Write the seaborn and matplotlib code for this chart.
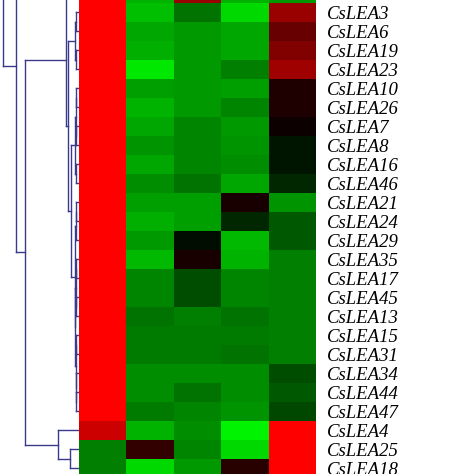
import matplotlib
matplotlib.use("Agg")
import matplotlib.pyplot as plt
import seaborn as sns
import numpy as np
import pandas as pd
from matplotlib.colors import LinearSegmentedColormap

genes = ["CsLEA2", "CsLEA3", "CsLEA6", "CsLEA19", "CsLEA23", "CsLEA10", "CsLEA26", "CsLEA7",
         "CsLEA8", "CsLEA16", "CsLEA46", "CsLEA21", "CsLEA24", "CsLEA29", "CsLEA35", "CsLEA17",
         "CsLEA45", "CsLEA13", "CsLEA15", "CsLEA31", "CsLEA34", "CsLEA44", "CsLEA47", "CsLEA4",
         "CsLEA25", "CsLEA18"]
col1 = [1, 1, 1, 1, 1, 1, 1, 1, 1, 1, 1, 1, 1, 1, 1, 1, 1, 1, 1, 1, 1, 1, 1, 0.8, -0.5, -0.5]
col2 = [-0.7, -0.75, -0.65, -0.68, -0.9, -0.62, -0.7, -0.65, -0.58, -0.65, -0.55, -0.62, -0.68,
        -0.6, -0.72, -0.52, -0.52, -0.45, -0.48, -0.48, -0.55, -0.55, -0.48, -0.7, 0.2, -0.85]
col3 = [0.6, -0.45, -0.6, -0.6, -0.6, -0.6, -0.6, -0.52, -0.52, -0.52, -0.45, -0.62, -0.62,
        -0.05, 0.1, -0.3, -0.3, -0.5, -0.48, -0.48, -0.55, -0.45, -0.52, -0.55, -0.52, -0.6]
col4 = [-0.7, -0.85, -0.65, -0.65, -0.5, -0.62, -0.52, -0.6, -0.58, -0.55, -0.65, 0.1, -0.15,
        -0.72, -0.7, -0.52, -0.52, -0.45, -0.48, -0.45, -0.55, -0.55, -0.58, -0.95, -0.85, 0.15]
col5 = [-0.6, 0.6, 0.4, 0.5, 0.62, 0.12, 0.12, 0.05, -0.08, -0.08, -0.15, -0.58, -0.35,
        -0.35, -0.5, -0.5, -0.5, -0.5, -0.5, -0.5, -0.3, -0.35, -0.28, 1, 1, 1]

# dendrogram tree: leaves are row indices (-6 is an off-canvas phantom), nodes (left, right, x)
G1 = ((1, 2, 76), (3, 4, 76), 75)
G2 = (((5, 6, 76), (7, 8, 76), 75.5), (9, 10, 76), 75)
G3 = (((11, 12, 76), 13, 75.5), (((14, 15, 76), (16, 17, 76), 75.5), ((18, 19, 76), (20, (21, 22, 76), 76), 75.5), 75), 74.5)
N1 = (G2, G3, 71)
NA = (G1, N1, 68)
NB = (0, NA, 66)
C = (23, (24, 25, 70), 58)
T = (NB, C, 25)
TOP = (-6, T, 16)
ROOT = (-6, TOP, 3)

df = pd.DataFrame({"c1": col1, "c2": col2, "c3": col3, "c4": col4, "c5": col5}, index=genes)
cmap = LinearSegmentedColormap.from_list("gbr", ["#00ff00", "#000000", "#ff0000"])

fig = plt.figure(figsize=(4.74, 4.74), dpi=100)
W = 474.0
hax = fig.add_axes([79 / W, 0, (316 - 79) / W, 1])
dax = fig.add_axes([0, 0, 79 / W, 1])

sns.heatmap(df, ax=hax, cmap=cmap, vmin=-1, vmax=1, cbar=False,
            xticklabels=False, yticklabels=genes, linewidths=0)
y_top = 1 - 3 / 19.0
y_bot = 25 + 15 / 19.0
hax.set_ylim(y_bot, y_top)
hax.yaxis.tick_right()
hax.tick_params(axis="y", length=0, pad=8, rotation=0)
for t in hax.get_yticklabels():
    t.set_fontfamily("Liberation Serif")
    t.set_fontstyle("italic")
    t.set_fontsize(13.5)
    t.set_rotation(0)
hax.set_xlabel("")
hax.set_ylabel("")

lc = "#3a3a8c"
def draw(node):
    if isinstance(node, int):
        return node + 0.5, 79
    l, r, x = node
    y1, x1 = draw(l)
    y2, x2 = draw(r)
    dax.plot([x, x1], [y1, y1], color=lc, lw=1)
    dax.plot([x, x2], [y2, y2], color=lc, lw=1)
    dax.plot([x, x], [y1, y2], color=lc, lw=1)
    return (y1 + y2) / 2, x

draw(ROOT)
dax.set_xlim(0, 79)
dax.set_ylim(y_bot, y_top)
dax.axis("off")

fig.savefig("out.png", dpi=100)
